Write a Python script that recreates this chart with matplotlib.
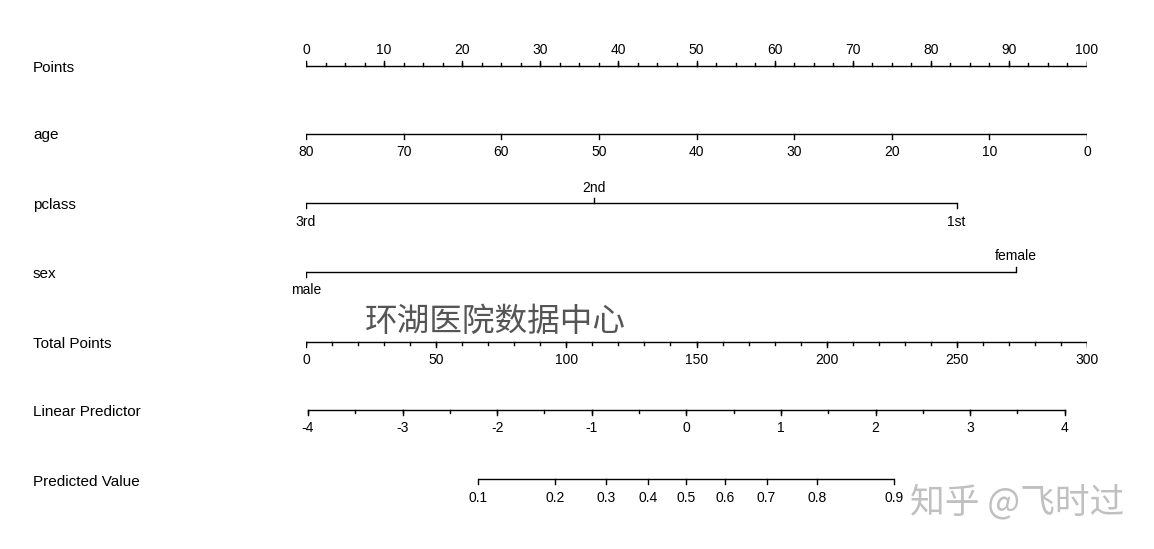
import numpy as np
import matplotlib
matplotlib.use("Agg")
import matplotlib.pyplot as plt
from matplotlib.transforms import blended_transform_factory

plt.rcParams['font.family'] = ['Liberation Sans', 'DejaVu Sans']

# nomogram scales
points_major = [0, 10, 20, 30, 40, 50, 60, 70, 80, 90, 100]
age_values = [80, 70, 60, 50, 40, 30, 20, 10, 0]
age_points = [0, 12.5, 25, 37.5, 50, 62.5, 75, 87.5, 100]
pclass_levels = ['3rd', '2nd', '1st']
pclass_points = [0, 36.9, 83.3]
sex_levels = ['male', 'female']
sex_points = [0, 90.9]
total_major = [0, 50, 100, 150, 200, 250, 300]
lp_values = [-4, -3, -2, -1, 0, 1, 2, 3, 4]
lp_slope = 36.34       # total points per unit of linear predictor
lp_intercept = 146.1   # total points at linear predictor 0
prob_values = [0.1, 0.2, 0.3, 0.4, 0.5, 0.6, 0.7, 0.8, 0.9]

row_names = ['Points', 'age', 'pclass', 'sex', 'Total Points',
             'Linear Predictor', 'Predicted Value']

W, H = 1154, 549
fig = plt.figure(figsize=(W / 100, H / 100), dpi=100)
# x axis in "points" units, y axis in pixels from top
ax = fig.add_axes([306 / W, 0, 781 / W, 1])
ax.set_xlim(0, 100)
ax.set_ylim(H, 0)
ax.axis('off')

LW = 1.0
TS = 10
k = 'black'


def tot2pts(t):
    return np.asarray(t, dtype=float) / 3.0


def draw_row(y, xs, labels, up, minor=None, major_len=5, minor_len=3, lab_off=17):
    xs = np.asarray(xs, dtype=float)
    ax.plot([xs.min(), xs.max()], [y, y], color=k, lw=LW, solid_capstyle='butt')
    if minor is not None:
        for m in minor:
            sgn = -1 if up else 1
            ax.plot([m, m], [y, y + sgn * minor_len], color=k, lw=LW)
    for x, lab, u in zip(xs, labels, up if isinstance(up, list) else [up] * len(xs)):
        sgn = -1 if u else 1
        ax.plot([x, x], [y, y + sgn * major_len], color=k, lw=LW)
        ax.text(x, y + sgn * lab_off + 1.5, lab, ha='center', va='center', fontsize=TS)


# Points
draw_row(66, points_major, [str(v) for v in points_major], True,
         minor=np.arange(0, 100.1, 2.5))
# age
draw_row(134, age_points, [str(v) for v in age_values], False)
# pclass
draw_row(203, pclass_points, pclass_levels, [False, True, False], major_len=5)
# sex
draw_row(272, sex_points, sex_levels, [False, True], major_len=5)
# Total Points
draw_row(342, tot2pts(total_major), [str(v) for v in total_major], False,
         minor=tot2pts(np.arange(0, 301, 10)))
# Linear Predictor
lp_tot = lp_intercept + lp_slope * np.asarray(lp_values, dtype=float)
lp_minor = lp_intercept + lp_slope * np.arange(-4, 4.01, 0.5)
draw_row(410, tot2pts(lp_tot), [str(v) for v in lp_values], False,
         minor=tot2pts(lp_minor))
# Predicted Value
p = np.asarray(prob_values)
prob_tot = lp_intercept + lp_slope * np.log(p / (1 - p))
draw_row(479, tot2pts(prob_tot), [str(v) for v in prob_values], False)

# row names on the left
tr = blended_transform_factory(fig.transFigure, ax.transData)
for name, y in zip(row_names, [66, 133, 203, 272, 342, 411, 481]):
    ax.text(33 / W, y + 1.5, name, transform=tr, ha='left', va='center', fontsize=11)

# watermarks
fig.text(365 / W, 1 - 322 / H, '环湖医院数据中心', family=['Noto Sans CJK SC', 'DejaVu Sans'],
         fontsize=23.5, color='#555555', ha='left', va='center')
fig.text(910 / W, 1 - 503 / H, '知乎 @飞时过', family=['Noto Sans CJK SC', 'DejaVu Sans'],
         fontsize=25, color='#c0c0c0', ha='left', va='center')

fig.savefig('out.png', dpi=100, facecolor='white')
